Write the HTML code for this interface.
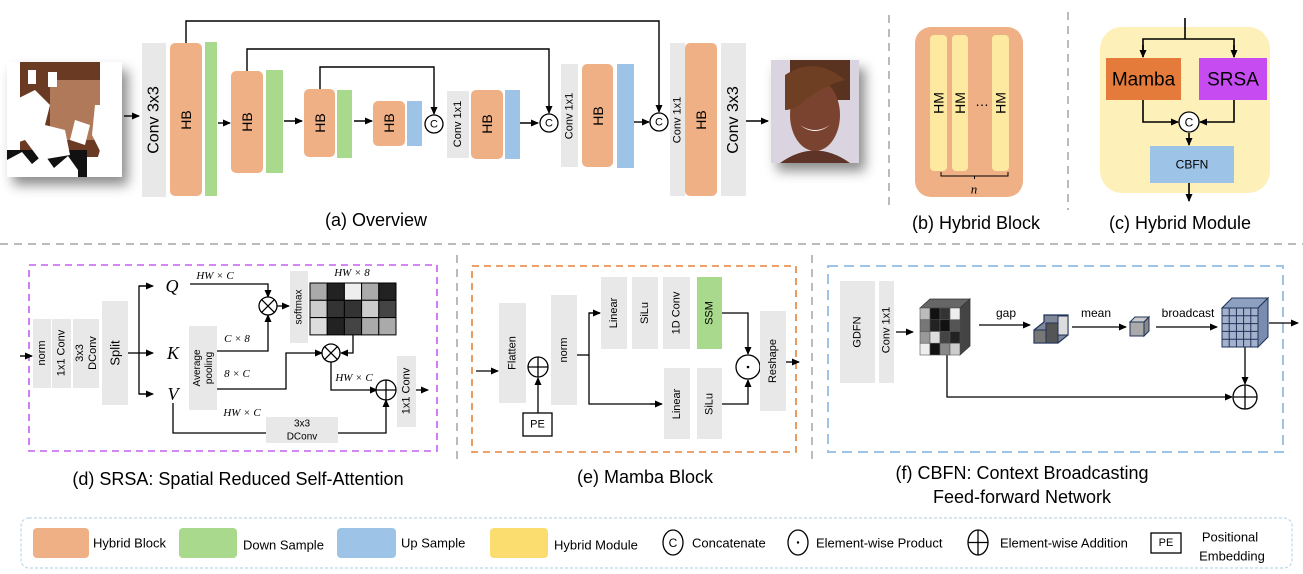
<!DOCTYPE html>
<html><head><meta charset="utf-8"><style>
html,body{margin:0;padding:0;background:#fff;}
svg{display:block;font-family:"Liberation Sans",sans-serif;}
</style></head><body>
<svg width="1303" height="574" viewBox="0 0 1303 574" xmlns="http://www.w3.org/2000/svg">
<defs>
<marker id="a" markerWidth="8" markerHeight="8" refX="7" refY="4" orient="auto" markerUnits="userSpaceOnUse"><path d="M0,0.5 L8,4 L0,7.5 z" fill="#000"/></marker>
<filter id="sh" x="-20%" y="-20%" width="150%" height="150%"><feDropShadow dx="6" dy="8" stdDeviation="6" flood-color="#000" flood-opacity="0.45"/></filter>
</defs>
<g stroke-width="1.4" fill="none" stroke="#000">
</g>

<!-- ===== (a) Overview ===== -->
<!-- input image -->
<g filter="url(#sh)">
<rect x="7" y="62" width="115" height="115" fill="#fff"/>
</g>
<rect x="20" y="62" width="80" height="95" fill="#6b3a22"/>
<rect x="50" y="80" width="50" height="60" fill="#b07a5a"/>
<rect x="7" y="150" width="80" height="27" fill="#111"/>
<path d="M7,160 l15,-8 l10,12 l12,-10 l10,14 l14,-12 l10,14 v7 h-71z" fill="#fff"/>
<path d="M15,100 l20,-10 l15,15 l-5,20 l20,5 l5,25 l-30,5 l-15,-20 l-15,5z" fill="#fff"/>
<rect x="28" y="70" width="8" height="14" fill="#fff"/>
<rect x="48" y="72" width="9" height="15" fill="#fff"/>
<path d="M75,120 l15,5 l-5,20 l-15,-5z" fill="#fff"/>
<path d="M95,105 l20,0 l5,20 l2,20 l-20,10 l-10,-20z" fill="#fff"/>
<path d="M100,150 l22,0 v27 h-30z" fill="#fff"/>
<rect x="7" y="62" width="10" height="30" fill="#fff"/>
<line x1="124" y1="116" x2="139" y2="116" stroke="#000" stroke-width="1.4" marker-end="url(#a)"/>

<rect x="142" y="43" width="24" height="154" fill="#e8e8e8"/>
<text transform="translate(154,120) rotate(-90)" text-anchor="middle" dominant-baseline="central" font-size="16">Conv 3x3</text>
<rect x="170" y="43" width="32" height="153" rx="5" fill="#f0b086"/>
<text transform="translate(186,120) rotate(-90)" text-anchor="middle" dominant-baseline="central" font-size="14">HB</text>
<rect x="205" y="42" width="12" height="154" fill="#a9d98c"/>
<line x1="218" y1="123" x2="230" y2="123" stroke="#000" stroke-width="1.4" marker-end="url(#a)"/>

<rect x="231" y="71" width="32" height="102" rx="5" fill="#f0b086"/>
<text transform="translate(247,122) rotate(-90)" text-anchor="middle" dominant-baseline="central" font-size="14">HB</text>
<rect x="266" y="70" width="17" height="103" fill="#a9d98c"/>
<line x1="284" y1="121" x2="302" y2="121" stroke="#000" stroke-width="1.4" marker-end="url(#a)"/>

<rect x="304" y="89" width="31" height="68" rx="5" fill="#f0b086"/>
<text transform="translate(320,123) rotate(-90)" text-anchor="middle" dominant-baseline="central" font-size="14">HB</text>
<rect x="337" y="90" width="15" height="68" fill="#a9d98c"/>
<line x1="354" y1="121" x2="372" y2="121" stroke="#000" stroke-width="1.4" marker-end="url(#a)"/>

<rect x="373" y="101" width="32" height="45" rx="5" fill="#f0b086"/>
<text transform="translate(389,123) rotate(-90)" text-anchor="middle" dominant-baseline="central" font-size="14">HB</text>
<rect x="407" y="101" width="15" height="45" fill="#9dc3e6"/>
<circle cx="434" cy="124" r="9" fill="#fff" stroke="#000" stroke-width="1.3"/>
<text x="434" y="124.5" text-anchor="middle" dominant-baseline="central" font-size="11">C</text>

<rect x="447" y="91" width="22" height="67" fill="#e8e8e8"/>
<text transform="translate(458,124) rotate(-90)" text-anchor="middle" dominant-baseline="central" font-size="11">Conv 1x1</text>
<rect x="471" y="90" width="32" height="69" rx="5" fill="#f0b086"/>
<text transform="translate(487,124) rotate(-90)" text-anchor="middle" dominant-baseline="central" font-size="14">HB</text>
<rect x="505" y="90" width="15" height="69" fill="#9dc3e6"/>
<line x1="520" y1="123" x2="538" y2="123" stroke="#000" stroke-width="1.4" marker-end="url(#a)"/>
<circle cx="549" cy="123" r="9" fill="#fff" stroke="#000" stroke-width="1.3"/>
<text x="549" y="123.5" text-anchor="middle" dominant-baseline="central" font-size="11">C</text>

<rect x="561" y="64" width="17" height="103" fill="#e8e8e8"/>
<text transform="translate(569.5,116) rotate(-90)" text-anchor="middle" dominant-baseline="central" font-size="11">Conv 1x1</text>
<rect x="582" y="64" width="31" height="103" rx="5" fill="#f0b086"/>
<text transform="translate(598,116) rotate(-90)" text-anchor="middle" dominant-baseline="central" font-size="14">HB</text>
<rect x="617" y="64" width="17" height="104" fill="#9dc3e6"/>
<line x1="634" y1="122" x2="649" y2="122" stroke="#000" stroke-width="1.4" marker-end="url(#a)"/>
<circle cx="659" cy="122" r="9" fill="#fff" stroke="#000" stroke-width="1.3"/>
<text x="659" y="122.5" text-anchor="middle" dominant-baseline="central" font-size="11">C</text>

<rect x="670" y="43" width="15" height="153" fill="#e8e8e8"/>
<text transform="translate(677.5,120) rotate(-90)" text-anchor="middle" dominant-baseline="central" font-size="11">Conv 1x1</text>
<rect x="685" y="43" width="32" height="153" rx="5" fill="#f0b086"/>
<text transform="translate(701,120) rotate(-90)" text-anchor="middle" dominant-baseline="central" font-size="14">HB</text>
<rect x="721" y="43" width="25" height="153" fill="#e8e8e8"/>
<text transform="translate(733.5,120) rotate(-90)" text-anchor="middle" dominant-baseline="central" font-size="16">Conv 3x3</text>
<line x1="746" y1="121" x2="768" y2="121" stroke="#000" stroke-width="1.4" marker-end="url(#a)"/>

<!-- output face -->
<g filter="url(#sh)"><rect x="771" y="60" width="88" height="103" fill="#d9d4df"/></g>
<rect x="790" y="60" width="60" height="40" fill="#5a3220"/>
<ellipse cx="815" cy="115" rx="25" ry="36" fill="#7a4330"/>
<path d="M785,75 q30,-20 60,5 q-20,5 -40,20 q-10,10 -20,10z" fill="#6e3f22"/>
<path d="M800,125 q15,10 30,0 q-15,12 -30,0z" fill="#fff"/>
<path d="M780,163 q35,-25 70,0z" fill="#5e3428"/>

<!-- skip lines -->
<g stroke="#000" stroke-width="1.4" fill="none">
<polyline points="186,43 186,21 659,21 659,112" marker-end="url(#a)"/>
<polyline points="247,71 247,49 549,49 549,113" marker-end="url(#a)"/>
<polyline points="320,89 320,67 434,67 434,114" marker-end="url(#a)"/>
</g>
<text x="376" y="220" text-anchor="middle" dominant-baseline="central" font-size="18">(a) Overview</text>

<line x1="889" y1="15" x2="889" y2="210" stroke="#bbb" stroke-width="2" stroke-dasharray="8,6"/>
<line x1="1068" y1="12" x2="1068" y2="210" stroke="#bbb" stroke-width="2" stroke-dasharray="8,6"/>

<!-- (b) Hybrid block -->
<rect x="915" y="27" width="108" height="170" rx="16" fill="#f0b086"/>
<rect x="930" y="35" width="17" height="136" rx="4" fill="#fde9a0"/>
<rect x="952" y="35" width="16" height="136" rx="4" fill="#fde9a0"/>
<rect x="992" y="35" width="17" height="136" rx="4" fill="#fde9a0"/>
<text transform="translate(938.5,103) rotate(-90)" text-anchor="middle" dominant-baseline="central" font-size="14">HM</text>
<text transform="translate(960,103) rotate(-90)" text-anchor="middle" dominant-baseline="central" font-size="14">HM</text>
<text transform="translate(1000.5,103) rotate(-90)" text-anchor="middle" dominant-baseline="central" font-size="14">HM</text>
<text x="982" y="106" text-anchor="middle" font-size="14">…</text>
<path d="M941,172 v4 h67 v-4 M974.5,176 v3" stroke="#000" stroke-width="1" fill="none"/>
<text x="974" y="189" text-anchor="middle" dominant-baseline="central" font-size="13" font-style="italic" font-family="Liberation Serif,serif">n</text>
<text x="976" y="223" text-anchor="middle" dominant-baseline="central" font-size="18">(b) Hybrid Block</text>

<!-- (c) Hybrid module -->
<rect x="1100" y="27" width="170" height="166" rx="22" fill="#fdf0b8"/>
<g stroke="#000" stroke-width="1.6" fill="none">
<line x1="1185" y1="18" x2="1185" y2="39"/>
<polyline points="1143,57 1143,39 1234,39 1234,57"/>
<line x1="1143" y1="45" x2="1143" y2="57" marker-end="url(#a)"/>
<line x1="1234" y1="45" x2="1234" y2="57" marker-end="url(#a)"/>
<polyline points="1143,100 1143,122 1178,122" marker-end="url(#a)"/>
<polyline points="1234,100 1234,122 1200,122" marker-end="url(#a)"/>
<line x1="1189" y1="133" x2="1189" y2="145" marker-end="url(#a)"/>
<line x1="1189" y1="183" x2="1189" y2="201" marker-end="url(#a)"/>
</g>
<rect x="1106" y="58" width="75" height="42" fill="#e47b3a"/>
<text x="1143.5" y="80" text-anchor="middle" dominant-baseline="central" font-size="19">Mamba</text>
<rect x="1199" y="58" width="68" height="42" fill="#c64cf2"/>
<text x="1233" y="80" text-anchor="middle" dominant-baseline="central" font-size="19">SRSA</text>
<circle cx="1189" cy="122" r="10" fill="#fff" stroke="#000" stroke-width="1.3"/>
<text x="1189" y="122.5" text-anchor="middle" dominant-baseline="central" font-size="12">C</text>
<rect x="1150" y="146" width="84" height="37" fill="#9dc3e6"/>
<text x="1192" y="164.5" text-anchor="middle" dominant-baseline="central" font-size="12">CBFN</text>
<text x="1180" y="223" text-anchor="middle" dominant-baseline="central" font-size="18">(c) Hybrid Module</text>

<line x1="0" y1="244" x2="1303" y2="244" stroke="#bbb" stroke-width="2" stroke-dasharray="8,6"/>

<!-- ===== (d) SRSA ===== -->
<rect x="29" y="265" width="408" height="186" fill="none" stroke="#c55ef0" stroke-width="1.6" stroke-dasharray="7,5"/>
<line x1="20" y1="356" x2="32" y2="356" stroke="#000" stroke-width="1.4" marker-end="url(#a)"/>
<rect x="33" y="319" width="18" height="69" fill="#e8e8e8"/>
<rect x="52" y="319" width="19" height="69" fill="#e8e8e8"/>
<rect x="73" y="319" width="26" height="69" fill="#e8e8e8"/>
<rect x="102" y="301" width="26" height="104" fill="#e8e8e8"/>
<text transform="translate(42,353) rotate(-90)" text-anchor="middle" dominant-baseline="central" font-size="11">norm</text>
<text transform="translate(61.5,353) rotate(-90)" text-anchor="middle" dominant-baseline="central" font-size="11">1x1 Conv</text>
<text transform="translate(86,353) rotate(-90)" text-anchor="middle" dominant-baseline="central" font-size="11"><tspan x="0" dy="-6">3x3</tspan><tspan x="0" dy="13">DConv</tspan></text>
<text transform="translate(115,353) rotate(-90)" text-anchor="middle" dominant-baseline="central" font-size="13">Split</text>
<g stroke="#000" stroke-width="1.3" fill="none">
<line x1="128" y1="353" x2="139" y2="353"/>
<polyline points="152,286 139,286 139,394 152,394"/>
<line x1="139" y1="286" x2="153" y2="286" marker-end="url(#a)"/>
<line x1="139" y1="353" x2="153" y2="353" marker-end="url(#a)"/>
<line x1="139" y1="394" x2="153" y2="394" marker-end="url(#a)"/>
<polyline points="190,284 268,284 268,297" marker-end="url(#a)"/>
<line x1="277" y1="306" x2="289" y2="306" marker-end="url(#a)"/>
<polyline points="217,351 268,351 268,315" marker-end="url(#a)"/>
<polyline points="217,389 286,389 286,353 322,353" marker-end="url(#a)"/>
<polyline points="353,335 353,353 341,353" marker-end="url(#a)"/>
<polyline points="331,362 331,390 377,390" marker-end="url(#a)"/>
<polyline points="173,403 173,433 266,433"/>
<polyline points="338,433 386,433 386,400" marker-end="url(#a)"/>
<line x1="396" y1="390" x2="396" y2="390"/>
<line x1="416" y1="390" x2="428" y2="390" marker-end="url(#a)"/>
</g>
<g font-family="Liberation Serif,serif" font-style="italic">
<text x="172" y="286" text-anchor="middle" dominant-baseline="central" font-size="18">Q</text>
<text x="173" y="353" text-anchor="middle" dominant-baseline="central" font-size="18">K</text>
<text x="173" y="394" text-anchor="middle" dominant-baseline="central" font-size="18">V</text>
<text x="215" y="276" text-anchor="middle" dominant-baseline="central" font-size="11">HW × C</text>
<text x="237" y="339" text-anchor="middle" dominant-baseline="central" font-size="11">C × 8</text>
<text x="237" y="374" text-anchor="middle" dominant-baseline="central" font-size="11">8 × C</text>
<text x="352" y="273" text-anchor="middle" dominant-baseline="central" font-size="11">HW × 8</text>
<text x="354" y="378" text-anchor="middle" dominant-baseline="central" font-size="11">HW × C</text>
<text x="242" y="413" text-anchor="middle" dominant-baseline="central" font-size="11">HW × C</text>
</g>
<rect x="189" y="326" width="28" height="84" fill="#e8e8e8"/>
<text transform="translate(203,368) rotate(-90)" text-anchor="middle" dominant-baseline="central" font-size="10"><tspan x="0" dy="-6">Average</tspan><tspan x="0" dy="12">pooling</tspan></text>
<rect x="290" y="271" width="18" height="72" fill="#e8e8e8"/>
<text transform="translate(299,307) rotate(-90)" text-anchor="middle" dominant-baseline="central" font-size="10">softmax</text>
<g stroke="#000" stroke-width="1">
<rect x="310" y="283" width="17.2" height="17.3" fill="#aaa"/><rect x="327.2" y="283" width="17.2" height="17.3" fill="#222"/><rect x="344.4" y="283" width="17.2" height="17.3" fill="#eee"/><rect x="361.6" y="283" width="17.2" height="17.3" fill="#aaa"/><rect x="378.8" y="283" width="17.2" height="17.3" fill="#222"/>
<rect x="310" y="300.3" width="17.2" height="17.3" fill="#ccc"/><rect x="327.2" y="300.3" width="17.2" height="17.3" fill="#333"/><rect x="344.4" y="300.3" width="17.2" height="17.3" fill="#333"/><rect x="361.6" y="300.3" width="17.2" height="17.3" fill="#ccc"/><rect x="378.8" y="300.3" width="17.2" height="17.3" fill="#444"/>
<rect x="310" y="317.6" width="17.2" height="17.3" fill="#ddd"/><rect x="327.2" y="317.6" width="17.2" height="17.3" fill="#222"/><rect x="344.4" y="317.6" width="17.2" height="17.3" fill="#444"/><rect x="361.6" y="317.6" width="17.2" height="17.3" fill="#aaa"/><rect x="378.8" y="317.6" width="17.2" height="17.3" fill="#aaa"/>
</g>
<g stroke="#000" stroke-width="1.3" fill="#fff">
<circle cx="268" cy="306" r="9"/><path d="M261.6,299.6 l12.8,12.8 M274.4,299.6 l-12.8,12.8"/>
<circle cx="331" cy="353" r="9"/><path d="M324.6,346.6 l12.8,12.8 M337.4,346.6 l-12.8,12.8"/>
<circle cx="386" cy="390" r="10"/><path d="M376,390 h20 M386,380 v20"/>
</g>
<rect x="266" y="417" width="72" height="26" fill="#e8e8e8"/>
<text x="302" y="424" text-anchor="middle" dominant-baseline="central" font-size="10">3x3</text>
<text x="302" y="437" text-anchor="middle" dominant-baseline="central" font-size="10">DConv</text>
<rect x="397" y="356" width="19" height="71" fill="#e8e8e8"/>
<text transform="translate(406.5,391) rotate(-90)" text-anchor="middle" dominant-baseline="central" font-size="11">1x1 Conv</text>
<text x="238" y="479" text-anchor="middle" dominant-baseline="central" font-size="18">(d) SRSA: Spatial Reduced Self-Attention</text>

<line x1="457" y1="255" x2="457" y2="460" stroke="#bbb" stroke-width="2" stroke-dasharray="8,6"/>
<line x1="812" y1="255" x2="812" y2="460" stroke="#bbb" stroke-width="2" stroke-dasharray="8,6"/>

<!-- ===== (e) Mamba ===== -->
<rect x="472" y="266" width="324" height="186" fill="none" stroke="#e8823a" stroke-width="1.6" stroke-dasharray="7,5"/>
<g stroke="#000" stroke-width="1.3" fill="none">
<line x1="476" y1="371" x2="498" y2="371" marker-end="url(#a)"/>
<line x1="538" y1="413" x2="538" y2="378" marker-end="url(#a)"/>
<polyline points="577,355 589,355"/>
<polyline points="600,313 589,313 589,404 661,404"/>
<line x1="589" y1="313" x2="600" y2="313" marker-end="url(#a)"/>
<line x1="650" y1="404" x2="662" y2="404" marker-end="url(#a)"/>
<polyline points="722,313 748,313 748,354" marker-end="url(#a)"/>
<polyline points="722,404 748,404 748,380" marker-end="url(#a)"/>
<line x1="786" y1="362" x2="799" y2="362" marker-end="url(#a)"/>
</g>
<rect x="499" y="303" width="27" height="100" fill="#e8e8e8"/>
<text transform="translate(512.5,353) rotate(-90)" text-anchor="middle" dominant-baseline="central" font-size="11">Flatten</text>
<circle cx="538" cy="367" r="10" fill="#fff" stroke="#000" stroke-width="1.3"/>
<path d="M528,367 h20 M538,357 v20" stroke="#000" stroke-width="1.3"/>
<rect x="523" y="413" width="29" height="23" fill="#fff" stroke="#000" stroke-width="1.3"/>
<text x="537.5" y="424.5" text-anchor="middle" dominant-baseline="central" font-size="11">PE</text>
<rect x="551" y="295" width="26" height="110" fill="#e8e8e8"/>
<text transform="translate(564,350) rotate(-90)" text-anchor="middle" dominant-baseline="central" font-size="11">norm</text>
<rect x="601" y="277" width="26" height="72" fill="#e8e8e8"/>
<rect x="632" y="277" width="26" height="72" fill="#e8e8e8"/>
<rect x="663" y="277" width="27" height="72" fill="#e8e8e8"/>
<rect x="697" y="277" width="25" height="72" fill="#a9d98c"/>
<text transform="translate(614,313) rotate(-90)" text-anchor="middle" dominant-baseline="central" font-size="11">Linear</text>
<text transform="translate(645,313) rotate(-90)" text-anchor="middle" dominant-baseline="central" font-size="11">SiLu</text>
<text transform="translate(676.5,313) rotate(-90)" text-anchor="middle" dominant-baseline="central" font-size="11">1D Conv</text>
<text transform="translate(709.5,313) rotate(-90)" text-anchor="middle" dominant-baseline="central" font-size="11">SSM</text>
<rect x="664" y="368" width="26" height="71" fill="#e8e8e8"/>
<rect x="697" y="368" width="25" height="71" fill="#e8e8e8"/>
<text transform="translate(677,404) rotate(-90)" text-anchor="middle" dominant-baseline="central" font-size="11">Linear</text>
<text transform="translate(709.5,404) rotate(-90)" text-anchor="middle" dominant-baseline="central" font-size="11">SiLu</text>
<circle cx="748" cy="367" r="12" fill="#fff" stroke="#000" stroke-width="1.3"/>
<circle cx="748" cy="367" r="1.3" fill="#000"/>
<rect x="760" y="311" width="26" height="100" fill="#e8e8e8"/>
<text transform="translate(773,361) rotate(-90)" text-anchor="middle" dominant-baseline="central" font-size="11">Reshape</text>
<text x="645" y="477" text-anchor="middle" dominant-baseline="central" font-size="18">(e) Mamba Block</text>

<!-- ===== (f) CBFN ===== -->
<rect x="828" y="266" width="455" height="186" fill="none" stroke="#9dc3e6" stroke-width="2" stroke-dasharray="10,6"/>
<rect x="840" y="281" width="35" height="102" fill="#e8e8e8"/>
<text transform="translate(857.5,332) rotate(-90)" text-anchor="middle" dominant-baseline="central" font-size="11">GDFN</text>
<rect x="879" y="281" width="15" height="102" fill="#e8e8e8"/>
<text transform="translate(886.5,330) rotate(-90)" text-anchor="middle" dominant-baseline="central" font-size="11">Conv 1x1</text>
<g stroke="#000" stroke-width="1.3" fill="none">
<line x1="896" y1="332" x2="913" y2="332" marker-end="url(#a)"/>
<line x1="979" y1="325" x2="1030" y2="325" marker-end="url(#a)"/>
<line x1="1072" y1="327" x2="1126" y2="327" marker-end="url(#a)"/>
<line x1="1156" y1="327" x2="1217" y2="327" marker-end="url(#a)"/>
<line x1="1269" y1="323" x2="1298" y2="323" marker-end="url(#a)"/>
<line x1="1245" y1="347" x2="1245" y2="384" marker-end="url(#a)"/>
<polyline points="947,355 947,397 1232,397" marker-end="url(#a)"/>
</g>
<!-- feature cube -->
<polygon points="920,308 930,299 970,299 960,308" fill="#666" stroke="#333" stroke-width="0.8"/>
<polygon points="960,308 970,299 970,346 960,355" fill="#444" stroke="#333" stroke-width="0.8"/>
<g stroke="#555" stroke-width="0.6">
<rect x="920" y="308" width="10" height="11.75" fill="#bbb"/><rect x="930" y="308" width="10" height="11.75" fill="#111"/><rect x="940" y="308" width="10" height="11.75" fill="#333"/><rect x="950" y="308" width="10" height="11.75" fill="#eee"/>
<rect x="920" y="319.75" width="10" height="11.75" fill="#777"/><rect x="930" y="319.75" width="10" height="11.75" fill="#222"/><rect x="940" y="319.75" width="10" height="11.75" fill="#111"/><rect x="950" y="319.75" width="10" height="11.75" fill="#555"/>
<rect x="920" y="331.5" width="10" height="11.75" fill="#999"/><rect x="930" y="331.5" width="10" height="11.75" fill="#ddd"/><rect x="940" y="331.5" width="10" height="11.75" fill="#444"/><rect x="950" y="331.5" width="10" height="11.75" fill="#222"/>
<rect x="920" y="343.25" width="10" height="11.75" fill="#eee"/><rect x="930" y="343.25" width="10" height="11.75" fill="#111"/><rect x="940" y="343.25" width="10" height="11.75" fill="#888"/><rect x="950" y="343.25" width="10" height="11.75" fill="#ccc"/>
</g>
<!-- bar cube -->
<polygon points="1034,330 1044,322 1044,315 1068,315 1068,335 1058,343 1034,343" fill="#7f8898" stroke="#1f3358" stroke-width="1.2"/>
<rect x="1034" y="330" width="12" height="13" fill="#777" stroke="#1f3358"/>
<rect x="1046" y="323" width="12" height="20" fill="#555" stroke="#1f3358"/>
<rect x="1058" y="316" width="10" height="19" fill="#ddd" stroke="#1f3358"/>
<!-- small cube -->
<polygon points="1130,322 1135,317 1149,317 1144,322" fill="#ccc" stroke="#1f3358"/>
<polygon points="1144,322 1149,317 1149,331 1144,336" fill="#888" stroke="#1f3358"/>
<rect x="1130" y="322" width="14" height="14" fill="#aaa" stroke="#1f3358"/>
<!-- big grid cube -->
<polygon points="1222,308 1232,298 1268,298 1258,308" fill="#8da0c0" stroke="#1f3358"/>
<polygon points="1258,308 1268,298 1268,337 1258,347" fill="#7a8db0" stroke="#1f3358"/>
<rect x="1222" y="308" width="36" height="39" fill="#a3b1cc" stroke="#1f3358"/>
<path d="M1229.2,308v39M1236.4,308v39M1243.6,308v39M1250.8,308v39M1222,315.8h36M1222,323.6h36M1222,331.4h36M1222,339.2h36" stroke="#1f3358" stroke-width="1"/>
<text x="1006" y="313" text-anchor="middle" dominant-baseline="central" font-size="12">gap</text>
<text x="1096" y="313" text-anchor="middle" dominant-baseline="central" font-size="12">mean</text>
<text x="1188" y="313" text-anchor="middle" dominant-baseline="central" font-size="12">broadcast</text>
<circle cx="1245" cy="397" r="12" fill="#fff" stroke="#000" stroke-width="1.3"/>
<path d="M1233,397 h24 M1245,385 v24" stroke="#000" stroke-width="1.3"/>
<text x="1022" y="473" text-anchor="middle" dominant-baseline="central" font-size="18">(f) CBFN: Context Broadcasting</text>
<text x="1022" y="497" text-anchor="middle" dominant-baseline="central" font-size="18">Feed-forward Network</text>

<!-- ===== legend ===== -->
<rect x="21" y="518" width="1271" height="50" rx="8" fill="none" stroke="#bcd8e8" stroke-width="1.2" stroke-dasharray="3,2"/>
<g font-size="13">
<rect x="33" y="528" width="56" height="30" rx="4" fill="#f0b086"/>
<text x="93" y="543" dominant-baseline="central">Hybrid Block</text>
<rect x="179" y="528" width="58" height="30" rx="4" fill="#a9d98c"/>
<text x="243" y="545" dominant-baseline="central">Down Sample</text>
<rect x="337" y="528" width="59" height="30" rx="4" fill="#9dc3e6"/>
<text x="401" y="543" dominant-baseline="central">Up Sample</text>
<rect x="490" y="528" width="58" height="30" rx="4" fill="#fadd6e"/>
<text x="554" y="545" dominant-baseline="central">Hybrid Module</text>
<ellipse cx="673" cy="542.5" rx="10" ry="12.5" fill="#fff" stroke="#000" stroke-width="1.3"/>
<text x="673" y="543" text-anchor="middle" dominant-baseline="central" font-size="12">C</text>
<text x="692" y="543" dominant-baseline="central">Concatenate</text>
<ellipse cx="798" cy="542.5" rx="10" ry="12.5" fill="#fff" stroke="#000" stroke-width="1.3"/>
<circle cx="798" cy="542.5" r="1.2" fill="#000"/>
<text x="816" y="543" dominant-baseline="central">Element-wise Product</text>
<ellipse cx="978" cy="542.5" rx="10" ry="12.5" fill="#fff" stroke="#000" stroke-width="1.3"/>
<path d="M968,542.5 h20 M978,530 v25" stroke="#000" stroke-width="1.3"/>
<text x="1000" y="543" dominant-baseline="central">Element-wise Addition</text>
<rect x="1151" y="533" width="30" height="20" fill="#fff" stroke="#000" stroke-width="1.3"/>
<text x="1166" y="543" text-anchor="middle" dominant-baseline="central" font-size="11">PE</text>
<text x="1230" y="537" text-anchor="middle" dominant-baseline="central">Positional</text>
<text x="1232" y="556" text-anchor="middle" dominant-baseline="central">Embedding</text>
</g>
</svg>
</body></html>
